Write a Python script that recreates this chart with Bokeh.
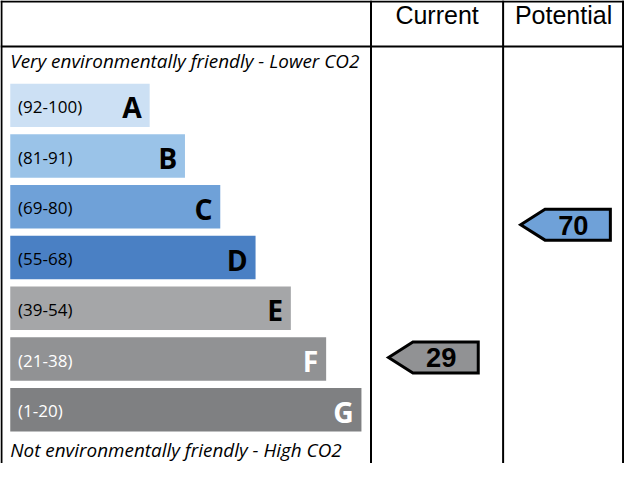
from bokeh.plotting import figure
from bokeh.models import Range1d, ColumnDataSource
from bokeh.core.properties import value
from bokeh.embed import file_html
from bokeh.resources import INLINE

# ---- data ----
bands = ["A", "B", "C", "D", "E", "F", "G"]
band_ranges = ["(92-100)", "(81-91)", "(69-80)", "(55-68)", "(39-54)", "(21-38)", "(1-20)"]
band_lo = [92, 81, 69, 55, 39, 21, 1]
band_hi = [100, 91, 80, 68, 54, 38, 20]
band_colors = ["#cce0f4", "#9ac3e8", "#6fa1d8", "#4a80c4", "#a5a6a8", "#919294", "#7f8082"]
label_colors = ["black", "black", "black", "black", "black", "white", "white"]
headers = ["Current", "Potential"]
ratings = [29, 70]
top_caption = "Very environmentally friendly - Lower CO2"
bottom_caption = "Not environmentally friendly - High CO2"

# ---- layout (reference pixel space 640x479, scaled into 624x463) ----
W, H = 624, 463
S = W / 640.0
BAR_LEFT = 10
BAR_TOP0 = 86
PITCH = 52.5
BAR_H = 45
BAR_R0 = 153
BAR_STEP = 36.2
COL_X = [380, 515.5, 638.5]
HEADER_Y = 47.5

def fs(px):
    return "%.1fpx" % (px * S)

p = figure(width=W, height=H, output_backend="svg", toolbar_location=None,
           x_range=Range1d(0, 640), y_range=Range1d(479, 0),
           min_border=0, min_border_left=0, min_border_right=0,
           min_border_top=0, min_border_bottom=0)
p.xaxis.visible = False
p.yaxis.visible = False
p.grid.visible = False
p.outline_line_color = None
p.background_fill_color = "white"
p.border_fill_color = "white"

n = len(bands)
tops = [BAR_TOP0 + i * PITCH for i in range(n)]
bottoms = [t + BAR_H for t in tops]
rights = [BAR_R0 + i * BAR_STEP for i in range(n)]
centers = [t + BAR_H / 2 for t in tops]

src = ColumnDataSource(dict(
    left=[BAR_LEFT] * n, right=rights, top=tops, bottom=bottoms,
    color=band_colors, band=bands, rng=band_ranges, lc=label_colors,
    rx=[18] * n, ry=[c + 1 for c in centers],
    lx=[r - 8 for r in rights], ly=[c + 2 for c in centers],
))
p.quad(left="left", right="right", top="top", bottom="bottom", source=src,
       fill_color="color", line_color=None)
p.text(x="rx", y="ry", text="rng", source=src, text_color="lc",
       text_font=value("Open Sans"), text_font_size=fs(17.4),
       text_baseline="middle", text_align="left")
p.text(x="lx", y="ly", text="band", source=src, text_color="lc",
       text_font=value("Open Sans"), text_font_style="bold", text_font_size=fs(29),
       text_baseline="middle", text_align="right")

# captions
p.text(x=[10], y=[62.3], text=[top_caption], text_font=value("Open Sans"),
       text_font_style="italic", text_font_size=fs(19.4), text_color="black",
       text_baseline="middle", text_align="left")
p.text(x=[10], y=[465.5], text=[bottom_caption], text_font=value("Open Sans"),
       text_font_style="italic", text_font_size=fs(19.4), text_color="black",
       text_baseline="middle", text_align="left")

# headers
hx = [(COL_X[0] + COL_X[1]) / 2, (COL_X[1] + COL_X[2]) / 2 + 0.5]
p.text(x=hx, y=[15, 15], text=headers, text_font=value("Liberation Sans"),
       text_font_size=fs(25.6), text_color="black",
       text_baseline="middle", text_align="center")

# grid lines of the table
p.segment(x0=[1, 0, COL_X[0], COL_X[1], COL_X[2], 0],
          y0=[0, 1, 0, 0, 0, HEADER_Y],
          x1=[1, 640, COL_X[0], COL_X[1], COL_X[2], 640],
          y1=[479, 1, 479, 479, 479, HEADER_Y],
          line_color="black", line_width=2)

# rating arrows
def band_index(v):
    for i in range(n):
        if band_lo[i] <= v <= band_hi[i]:
            return i
    return n - 1

axs, ays, acol, tx, ty, tt = [], [], [], [], [], []
for k, v in enumerate(ratings):
    i = band_index(v)
    frac = (band_hi[i] - v) / (band_hi[i] - band_lo[i])
    yc = tops[i] + frac * BAR_H
    if k == 0:
        yc -= 3
    x0 = COL_X[k] + 18
    axs.append([x0, x0 + 25, x0 + 92, x0 + 92, x0 + 25])
    ays.append([yc, yc - 16, yc - 16, yc + 16, yc + 16])
    acol.append(band_colors[i])
    tx.append(x0 + 54)
    ty.append(yc + 0.5)
    tt.append(str(v))

p.patches(xs=axs, ys=ays, fill_color=acol, line_color="black", line_width=3,
          line_join="miter")
p.text(x=tx, y=ty, text=tt, text_font=value("Liberation Sans"), text_font_style="bold",
       text_font_size=fs(28), text_color="black",
       text_baseline="middle", text_align="center")

open("out.html", "w").write(file_html(p, INLINE))
